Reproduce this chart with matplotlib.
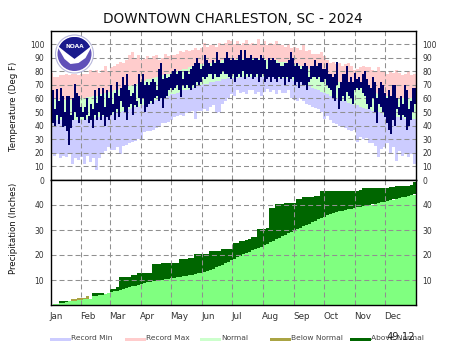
import numpy as np
import matplotlib
matplotlib.use('Agg')
import matplotlib.pyplot as plt
from matplotlib.patches import Circle, Polygon, Rectangle

months = ['Jan', 'Feb', 'Mar', 'Apr', 'May', 'Jun', 'Jul', 'Aug', 'Sep', 'Oct', 'Nov', 'Dec']
month_starts = [0, 31, 60, 91, 121, 152, 182, 213, 244, 274, 305, 335]
temp_ticks = [0, 10, 20, 30, 40, 50, 60, 70, 80, 90, 100]
precip_ticks = [10, 20, 30, 40]
total_precip = '49.12'

# every 3rd day
record_max = [79, 76, 76, 77, 77, 78, 77, 78, 78, 77, 78,
              78, 78, 81, 80, 81, 79, 81, 84, 80, 83,
              84, 85, 87, 86, 88, 92, 94, 90, 92, 88,
              89, 91, 89, 91, 92, 88, 90, 93, 91, 92,
              92, 93, 95, 94, 96, 95, 96, 97, 96, 97,
              101, 98, 99, 100, 98, 101, 100, 101, 103, 102,
              100, 102, 99, 101, 103, 100, 101, 99, 104, 100,
              102, 99, 101, 100, 102, 99, 99, 98, 100, 97,
              98, 97, 96, 99, 95, 96, 93, 93, 93, 94,
              91, 88, 86, 87, 85, 86, 84, 85, 86, 84, 81,
              82, 83, 84, 83, 83, 81, 80, 83, 80, 80,
              78, 80, 79, 81, 79, 77, 78, 80, 77, 78]
record_min = [20, 18, 19, 16, 18, 17, 19, 12, 16, 15, 17,
              12, 18, 13, 16, 7, 16, 20, 21, 24, 22,
              22, 24, 19, 25, 26, 27, 28, 29, 30, 30,
              35, 36, 36, 37, 38, 40, 42, 42, 43, 44,
              46, 47, 48, 47, 49, 50, 51, 45, 51, 51,
              52, 51, 54, 55, 49, 50, 56, 58, 60, 63,
              62, 66, 64, 65, 63, 66, 66, 63, 65, 62,
              65, 67, 65, 66, 63, 66, 64, 64, 66, 60,
              59, 58, 60, 58, 56, 55, 54, 53, 52, 50,
              45, 47, 44, 42, 41, 40, 39, 38, 37, 36, 37,
              28, 32, 30, 31, 27, 27, 25, 17, 23, 24,
              27, 20, 24, 14, 21, 18, 20, 17, 19, 12]
normal_high = [60, 60, 59, 59, 59, 59, 59, 59, 60, 60, 60,
               60, 61, 61, 62, 62, 63, 63, 64, 65, 65,
               66, 66, 67, 68, 69, 69, 70, 71, 71, 72,
               73, 74, 74, 75, 76, 76, 77, 78, 78, 79,
               80, 80, 81, 82, 82, 83, 84, 84, 85, 85,
               85, 86, 86, 87, 87, 87, 88, 88, 88, 88,
               88, 89, 89, 89, 89, 89, 89, 89, 89, 89,
               89, 88, 88, 88, 88, 87, 87, 87, 86, 86,
               85, 85, 84, 84, 83, 82, 81, 80, 79, 78,
               77, 76, 75, 74, 73, 72, 72, 71, 70, 70, 69,
               69, 68, 67, 66, 65, 65, 64, 63, 63, 62,
               62, 61, 61, 60, 60, 60, 60, 60, 60, 60]
normal_low = [45, 45, 44, 44, 44, 44, 44, 44, 44, 44, 44,
              44, 45, 45, 45, 46, 46, 47, 47, 48, 48,
              49, 50, 50, 51, 52, 52, 53, 54, 54, 55,
              55, 56, 57, 58, 59, 60, 60, 61, 62, 63,
              63, 64, 65, 66, 66, 67, 68, 69, 69, 70,
              71, 71, 72, 72, 73, 73, 74, 74, 75, 75,
              75, 75, 76, 76, 76, 76, 76, 76, 76, 76,
              76, 76, 76, 76, 75, 75, 75, 75, 74, 74,
              73, 72, 72, 71, 70, 69, 68, 67, 66, 65,
              64, 63, 62, 61, 60, 59, 58, 58, 57, 56, 55,
              55, 54, 53, 52, 52, 51, 50, 50, 49, 48,
              48, 47, 47, 46, 46, 46, 45, 45, 45, 45]

# every 2nd day
observed_high = [54, 66, 52, 67, 58, 68, 62, 50, 62, 62, 48, 60, 71, 64, 62, 54,
                 50, 54, 60, 47, 56, 52, 66, 57, 68, 62, 68, 54, 66, 60,
                 70, 56, 64, 72, 62, 68, 76, 70, 78, 66, 62, 64, 71, 58, 78, 72,
                 78, 70, 72, 70, 72, 74, 72, 66, 82, 86, 74, 78, 75, 76,
                 78, 80, 82, 78, 80, 80, 74, 80, 80, 78, 82, 84, 86, 90, 86, 82,
                 84, 92, 88, 86, 84, 88, 86, 94, 88, 86, 86, 90, 94, 90, 88,
                 90, 88, 88, 92, 96, 88, 96, 90, 90, 92, 88, 90, 90, 88, 92, 90,
                 88, 82, 90, 88, 90, 88, 86, 86, 84, 84, 86, 86, 88, 94, 90,
                 84, 86, 84, 82, 84, 86, 84, 76, 84, 84, 88, 84, 86, 86, 82,
                 82, 86, 78, 78, 76, 78, 87, 68, 72, 78, 78, 84, 72, 76, 72, 79,
                 74, 76, 72, 78, 80, 74, 70, 68, 76, 72, 60, 68, 72, 70, 64,
                 60, 66, 62, 70, 70, 60, 54, 62, 56, 70, 66, 52, 58, 68, 68]
observed_low = [40, 42, 40, 48, 41, 46, 39, 40, 36, 26, 38, 44, 50, 46, 42, 46,
                46, 44, 48, 42, 44, 38, 48, 44, 50, 44, 48, 40, 46, 44,
                48, 50, 44, 52, 46, 58, 54, 50, 44, 54, 56, 48, 55, 54, 60, 56,
                60, 50, 54, 56, 58, 56, 60, 62, 58, 60, 53, 60, 62, 66,
                68, 66, 68, 70, 66, 61, 70, 68, 70, 68, 66, 70, 68, 72, 70, 72,
                76, 74, 76, 78, 78, 74, 78, 76, 76, 78, 80, 78, 78, 76, 74,
                78, 72, 76, 78, 76, 80, 74, 78, 76, 78, 74, 76, 78, 72, 76, 78,
                72, 74, 76, 72, 76, 74, 72, 76, 74, 76, 70, 76, 72, 74, 76,
                70, 72, 68, 72, 70, 70, 66, 72, 74, 76, 76, 74, 76, 72, 72,
                74, 70, 68, 66, 60, 58, 70, 52, 58, 62, 58, 65, 62, 60, 56, 66,
                68, 66, 68, 64, 62, 56, 52, 54, 60, 50, 42, 56, 54, 50, 46,
                42, 37, 34, 44, 40, 52, 48, 44, 48, 46, 37, 40, 44, 50, 56]

# cumulative inches, every 3rd day
precip_observed = [0.1, 0.3, 0.3, 1.6, 1.6, 1.6, 1.6, 1.7, 1.7, 2.0, 2.0,
                   2.4, 2.6, 2.6, 4.8, 4.8, 4.8, 4.8, 4.8, 4.8, 6.4,
                   6.5, 7.3, 11.1, 11.1, 11.1, 11.1, 12, 12, 13, 13,
                   13, 13, 13, 16.4, 16.4, 16.4, 16.8, 16.8, 16.8, 16.8,
                   16.9, 17, 18.4, 18.4, 18.4, 19, 19, 20.3, 20.3, 20.3,
                   20.3, 20.3, 21.6, 21.6, 21.6, 21.6, 22.4, 22.4, 22.4, 22.4,
                   24.7, 24.7, 25.7, 25.7, 26.2, 26.6, 27.3, 27.3, 30.4, 30.4,
                   30.4, 31, 38.7, 38.7, 40.3, 40.3, 40.3, 41, 41, 41,
                   41, 42.4, 42.4, 43.2, 43.2, 43.2, 43.2, 43.6, 43.6, 45.6,
                   45.6, 45.6, 45.6, 45.6, 45.6, 45.6, 45.6, 45.6, 45.6, 45.6, 45.6,
                   45.6, 46, 47, 47, 47, 47, 47, 47, 47, 47,
                   47, 47.1, 47.2, 47.5, 47.5, 47.5, 47.5, 47.7, 48, 49.12]
precip_normal = [0.1, 0.3, 0.5, 0.7, 1.0, 1.3, 1.5, 2.3, 2.5, 2.7, 2.9,
                 3.0, 3.6, 3.6, 3.7, 3.8, 4.0, 4.2, 4.6, 5.3, 5.4,
                 5.6, 5.8, 6.0, 6.4, 6.8, 7.1, 7.5, 7.8, 8.2, 8.6,
                 8.9, 9.1, 9.3, 9.5, 9.7, 9.9, 10.1, 10.3, 10.5, 10.7,
                 10.9, 11.1, 11.3, 11.5, 11.7, 11.9, 12.1, 12.4, 12.7, 13.0,
                 13.3, 13.7, 14.1, 14.6, 15.1, 15.6, 16.2, 16.8, 17.4, 18.0,
                 18.6, 19.2, 19.8, 20.3, 20.8, 21.4, 21.9, 22.4, 22.9, 23.4,
                 23.9, 24.5, 25.1, 25.7, 26.3, 26.9, 27.5, 28.1, 28.7, 29.2,
                 29.8, 30.4, 30.9, 31.5, 32.0, 32.6, 33.2, 33.8, 34.3, 34.9,
                 35.4, 35.9, 36.4, 36.8, 37.2, 37.5, 37.8, 38.1, 38.4, 38.6, 38.9,
                 39.1, 39.3, 39.6, 39.8, 40.0, 40.2, 40.5, 40.8, 41.1, 41.4,
                 41.7, 41.9, 42.2, 42.5, 42.8, 43.1, 43.4, 43.6, 43.9, 44.2]

legend_labels = ['Record Min', 'Record Max', 'Normal', 'Below Normal', 'Above Normal']
legend_colors = ['#ccccff', '#ffcccc', '#ccffcc', '#aaa444', '#006600']
legend_x = [50, 125, 200, 270, 350]

W, H = 466, 345
GRID = dict(color='#909090', lw=0.75, ls=(0, (4.8, 2.9)), zorder=3)
TICK_COLOR = '#333333'


def closed(days, values):
    # repeat the last value so the steps reach the right edge of the year
    return np.append(days, 366), np.append(values, values[-1])


def axes_px(left, top, right, bottom):
    return fig.add_axes([left / W, 1 - bottom / H, (right - left) / W, (bottom - top) / H])


def style_axes(ax, yticks):
    ax.set_xlim(0, 366)
    ax.set_xticks(month_starts[1:])
    ax.set_xticklabels([])
    ax.set_yticks(yticks)
    ax.tick_params(length=0, labelsize=5.5, labelcolor=TICK_COLOR, pad=4.5,
                   left=False, labelleft=True, right=False, labelright=True)
    for m in month_starts[1:]:
        ax.axvline(m, **GRID)
    for t in yticks:
        ax.axhline(t, **GRID)
    for s in ax.spines.values():
        s.set_linewidth(1)
        s.set_zorder(6)


fig = plt.figure(figsize=(W / 100, H / 100), dpi=100, facecolor='white')

days3 = np.arange(0, 366, 3)
days2 = np.arange(0, 366, 2)

# temperature panel
ax = axes_px(50.5, 30.5, 416, 180)
ax.set_ylim(0, 110)
x, y = closed(days3, record_max)
_, low = closed(days3, record_min)
_, nh = closed(days3, normal_high)
_, nl = closed(days3, normal_low)
ax.fill_between(x, nh, y, step='post', color='#ffcccc', lw=0, zorder=1)
ax.fill_between(x, low, nl, step='post', color='#ccccff', lw=0, zorder=1)
ax.fill_between(x, nl, nh, step='post', color='#ccffcc', lw=0, zorder=1)
style_axes(ax, temp_ticks)
ax.set_yticklabels([str(t) for t in temp_ticks])
ax.vlines(days2 + 1, observed_low, observed_high, color='#000066', lw=1.2, antialiased=False, zorder=4)
ax.set_ylabel('Temperature (Deg F)', fontsize=6.2, color='#111111')
ax.yaxis.set_label_coords((18 - 50.5) / 365.5, (180 - 106) / 149.5)
ax.set_title('DOWNTOWN CHARLESTON, SC - 2024', fontsize=9.8, pad=5.5, color='#111111')

# precipitation panel
ax2 = axes_px(50.5, 180, 416, 305)
ax2.set_ylim(0, 50)
x, obs = closed(days3, precip_observed)
_, norm = closed(days3, precip_normal)
ax2.fill_between(x, 0, np.minimum(obs, norm), step='post', color='#80ff80', lw=0, zorder=1)
ax2.fill_between(x, norm, obs, where=obs >= norm, step='post', color='#006600', lw=0, zorder=1)
ax2.fill_between(x, obs, norm, where=obs <= norm, step='post', color='#aaa444', lw=0, zorder=1)
style_axes(ax2, precip_ticks)
ax2.set_yticklabels([str(t) for t in precip_ticks])
ax2.set_ylabel('Precipitation (Inches)', fontsize=6.2, color='#111111')
ax2.yaxis.set_label_coords((18 - 50.5) / 365.5, (305 - 228) / 125)
for m, start in zip(months, month_starts):
    ax2.annotate(m, (start, 0), xytext=(-0.7, -5), textcoords='offset points',
                 ha='left', va='top', fontsize=6.3, color=TICK_COLOR, annotation_clip=False)

# logo, legend and total sit on a pixel overlay
ov = fig.add_axes([0, 0, 1, 1], facecolor='none', zorder=10)
ov.set_xlim(0, W)
ov.set_ylim(H, 0)
ov.axis('off')

cx, cy = 74.5, 54
ov.add_patch(Circle((cx, cy), 19, fc='white', ec='#b8b8dc', lw=0.8))
disc = Circle((cx, cy), 17, fc='#6050b8', ec='none')
ov.add_patch(disc)
top = Polygon([(cx - 18, cy - 18), (cx + 18, cy - 18), (cx + 18, cy - 9), (cx + 8, cy - 1),
               (cx, cy + 5), (cx - 8, cy - 1), (cx - 18, cy - 9)],
              fc='#1a1a8c', ec='none')
ov.add_patch(top)
top.set_clip_path(disc)
gull = Polygon([(cx - 18, cy - 9), (cx - 8, cy - 1), (cx, cy + 5), (cx + 8, cy - 1), (cx + 18, cy - 9),
                (cx + 11, cy + 4), (cx + 4, cy + 9), (cx - 4, cy + 10), (cx - 10, cy + 5)],
               fc='white', ec='none')
ov.add_patch(gull)
ov.text(cx, cy - 7.5, 'NOAA', color='white', fontsize=4.2, fontweight='bold', ha='center', va='center')

for label, color, lx in zip(legend_labels, legend_colors, legend_x):
    ov.add_patch(Rectangle((lx, 338), 21, 3, fc=color, ec='none'))
    ov.text(lx + 21, 337.5, label, fontsize=5.4, color='#444444', ha='left', va='center')
ov.text(400.5, 337, total_precip, fontsize=7.2, color='#222222', ha='center', va='center')

fig.savefig('out.png', dpi=100)
